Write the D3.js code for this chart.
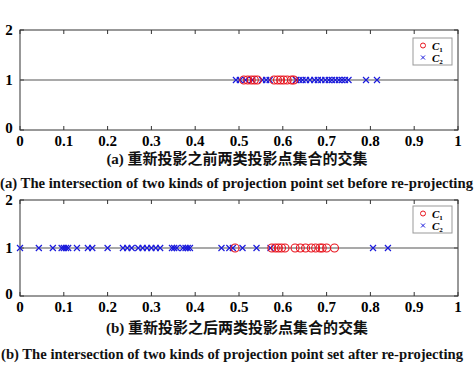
<!DOCTYPE html>
<html><head><meta charset="utf-8">
<script src="https://cdn.jsdelivr.net/npm/d3@7"></script>
<style>body{margin:0;background:#fff}svg{display:block}</style>
</head><body>
<svg id="c" width="474" height="384"></svg>
<script>
const xTicks = [0,0.1,0.2,0.3,0.4,0.5,0.6,0.7,0.8,0.9,1];
const xTickLabels = ["0","0.1","0.2","0.3","0.4","0.5","0.6","0.7","0.8","0.9","1"];
const yTicks = [0,1,2];
const seriesNames = ["C","C"];
const seriesSubs = ["1","2"];

const topC1 = [0.511,0.52,0.528,0.535,0.542,0.58,0.588,0.595,0.602,0.61,0.62,0.625];
const topC2 = [0.493,0.502,0.515,0.53,0.553,0.562,0.57,0.63,0.638,0.645,0.653,0.662,0.672,0.68,0.688,0.697,0.705,0.712,0.72,0.728,0.735,0.742,0.75,0.79,0.815];
const botC1 = [0.491,0.575,0.583,0.59,0.597,0.605,0.628,0.64,0.652,0.665,0.675,0.685,0.69,0.70,0.718];
const botC2 = [0.0,0.043,0.075,0.095,0.10,0.105,0.11,0.13,0.155,0.165,0.20,0.235,0.245,0.255,0.27,0.28,0.29,0.30,0.31,0.32,0.347,0.352,0.358,0.372,0.378,0.383,0.388,0.46,0.478,0.486,0.508,0.54,0.572,0.806,0.84];

const capZh = ["(a) 重新投影之前两类投影点集合的交集","(b) 重新投影之后两类投影点集合的交集"];
const capEn = ["(a)  The intersection of two kinds of projection point set before re-projecting",
               "(b)  The intersection of two kinds of projection point set after re-projecting"];

const svg = d3.select("#c");
const serif = "'Liberation Serif','Times New Roman','DejaVu Serif',serif";
const cjk = "'Liberation Serif','Noto Sans CJK SC',sans-serif";

function panel(top, bottom, c1, c2, zh, en, zhY, enY, enX0, enX1, legY){
  const x = d3.scaleLinear().domain([0,1]).range([20,458]);
  const y = d3.scaleLinear().domain([0,2]).range([bottom, top]);
  const g = svg.append("g");
  g.append("rect").attr("x",x(0)).attr("y",y(2)).attr("width",x(1)-x(0)).attr("height",y(0)-y(2))
    .attr("fill","none").attr("stroke","#333").attr("stroke-width",1);
  xTicks.forEach(t=>{
    g.append("line").attr("x1",x(t)).attr("x2",x(t)).attr("y1",y(0)).attr("y2",y(0)-4).attr("stroke","#333");
    g.append("line").attr("x1",x(t)).attr("x2",x(t)).attr("y1",y(2)).attr("y2",y(2)+4).attr("stroke","#333");
  });
  yTicks.forEach(t=>{
    g.append("line").attr("x1",x(0)).attr("x2",x(0)+4).attr("y1",y(t)).attr("y2",y(t)).attr("stroke","#333");
    g.append("line").attr("x1",x(1)).attr("x2",x(1)-4).attr("y1",y(t)).attr("y2",y(t)).attr("stroke","#333");
  });
  g.selectAll(".xl").data(xTicks).enter().append("text")
    .attr("x",d=>x(d)).attr("y",y(0)+16).attr("text-anchor","middle")
    .attr("font-family",serif).attr("font-weight","bold").attr("font-size",15)
    .text((d,i)=>xTickLabels[i]);
  g.selectAll(".yl").data(yTicks).enter().append("text")
    .attr("x",9).attr("y",d=>y(d)+5 - (d===0?2:0)).attr("text-anchor","middle")
    .attr("font-family",serif).attr("font-weight","bold").attr("font-size",15)
    .text(d=>d);
  g.append("line").attr("x1",x(0)).attr("x2",x(1)).attr("y1",y(1)).attr("y2",y(1)).attr("stroke","#555").attr("stroke-width",1.2);
  const s = 3;
  g.selectAll(".c2").data(c2).enter().append("path")
    .attr("d",d=>`M${x(d)-s},${y(1)-s}L${x(d)+s},${y(1)+s}M${x(d)-s},${y(1)+s}L${x(d)+s},${y(1)-s}`)
    .attr("stroke","#1a1adc").attr("stroke-width",1.2).attr("fill","none");
  g.selectAll(".c1").data(c1).enter().append("circle")
    .attr("cx",d=>x(d)).attr("cy",y(1)).attr("r",4)
    .attr("fill","none").attr("stroke","#e8141e").attr("stroke-width",1.1);
  const lx = 413, lw = 39, lh = 27;
  const lg = g.append("g");
  lg.append("rect").attr("x",lx).attr("y",legY).attr("width",lw).attr("height",lh)
    .attr("fill","#fff").attr("stroke","#999");
  lg.append("circle").attr("cx",lx+10).attr("cy",legY+7.5).attr("r",2.5).attr("fill","none").attr("stroke","#e8141e");
  const cy2 = legY+19.5;
  lg.append("path").attr("d",`M${lx+8},${cy2-2}L${lx+12},${cy2+2}M${lx+8},${cy2+2}L${lx+12},${cy2-2}`).attr("stroke","#1a1adc");
  [0,1].forEach(i=>{
    const t = lg.append("text").attr("x",lx+19).attr("y",legY+11.5+i*12)
      .attr("font-family",serif).attr("font-weight","bold").attr("font-style","italic").attr("font-size",11);
    t.append("tspan").text(seriesNames[i]);
    t.append("tspan").attr("font-size",7).attr("font-style","normal").attr("dy",2).text(seriesSubs[i]);
  });
  svg.append("text").attr("x",237).attr("y",zhY).attr("text-anchor","middle")
    .attr("font-family",cjk).attr("font-weight","bold").attr("font-size",15).attr("fill","#111").text(zh);
  svg.append("text").attr("x",enX0).attr("y",enY).attr("textLength",enX1-enX0).attr("lengthAdjust","spacingAndGlyphs")
    .attr("font-family",serif).attr("font-weight","bold").attr("font-size",14.5).attr("fill","#111").text(en);
}

panel(30,130, topC1, topC2, capZh[0], capEn[0], 164, 188, 0, 473, 38);
panel(200,296, botC1, botC2, capZh[1], capEn[1], 333, 359, 1, 463, 206);
</script>
</body></html>
